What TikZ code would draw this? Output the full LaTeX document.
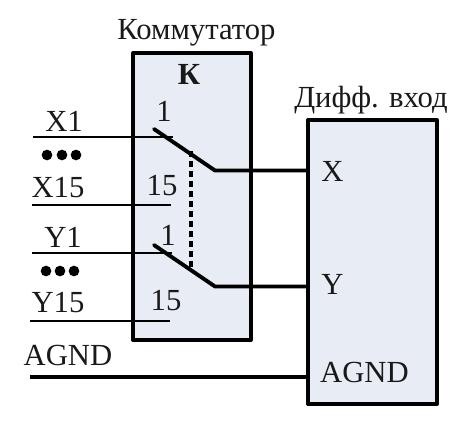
\documentclass[tikz,border=0pt]{standalone}
\usepackage{fontspec}
\setmainfont{Liberation Serif}
\definecolor{boxfill}{HTML}{E8ECF4}
\tikzset{
  panel/.style={draw=black,fill=boxfill,line width=3pt,line join=round,inner sep=0pt,outer sep=0pt},
  lbl/.style={anchor=base,inner sep=0pt,font=\fontsize{23}{26}\selectfont,text=black!90},
  wire/.style={line width=2.1pt,draw=black},
  blade/.style={line width=2.9pt,draw=black,line cap=round,line join=round},
  gang/.style={line width=2.9pt,draw=black,dash pattern=on 4.5pt off 3pt},
  dotmark/.style={circle,fill=black,inner sep=0pt,minimum size=8pt}
}
\begin{document}
\begin{tikzpicture}[x=0.75pt,y=-0.75pt]
\useasboundingbox (0,0) rectangle (474,424);
% blocks
\node[panel,minimum width=88pt,minimum height=215.5pt] (komm) at (192,196.5) {};
\node[panel,minimum width=96.5pt,minimum height=213pt] (diff) at (372.5,262) {};
% free ends of the wires and switch points
\coordinate (x1s) at (33,137);   \coordinate (x1e) at (173,137);
\coordinate (x15s) at (32,205);  \coordinate (x15e) at (171,205);
\coordinate (y1s) at (32,253);   \coordinate (y1e) at (172,253);
\coordinate (y15s) at (30,321);  \coordinate (y15e) at (170,321);
\coordinate (agnds) at (30,377);
\coordinate (xa) at (154,129);   \coordinate (xb) at (215,170.5);
\coordinate (ya) at (154,245);   \coordinate (yb) at (215,286.5);
\coordinate (ga) at (191,151);   \coordinate (gb) at (191,270);
% wires
\draw[wire] (x1s) -- (x1e);
\draw[wire] (x15s) -- (x15e);
\draw[wire] (y1s) -- (y1e);
\draw[wire] (y15s) -- (y15e);
\draw[wire,line width=2.6pt] (agnds) -- (agnds -| diff.west);
% switches
\draw[blade] (xa) -- (xb) -- (xb -| diff.west);
\draw[blade] (ya) -- (yb) -- (yb -| diff.west);
\draw[gang] (ga) -- (gb);
% dots
\foreach \n/\px/\py in {a/47/155,b/62/155,c/76/155,d/46/271,e/60/271,f/74/271}
  \node[dotmark] (dot\n) at (\px,\py) {};
% labels
\node[lbl] (tk) at (196.5,40) {Коммутатор};
\node[lbl] (td) at (371,108) {Дифф. вход};
\node[lbl,font=\fontsize{23}{26}\selectfont\bfseries] (tK) at (189,85) {К};
\node[lbl] (tx1) at (64,132) {X1};
\node[lbl] (tx15) at (58,197) {X15};
\node[lbl] (ty1) at (63,247) {Y1};
\node[lbl] (ty15) at (58,312) {Y15};
\node[lbl] (tag) at (68,365) {AGND};
\node[lbl] (t1a) at (164,122) {1};
\node[lbl] (t15a) at (162,195) {15};
\node[lbl] (t1b) at (168,245) {1};
\node[lbl] (t15b) at (166,310) {15};
\node[lbl] (tX) at (332.5,181) {X};
\node[lbl] (tY) at (332.5,294) {Y};
\node[lbl] (tAG) at (364.5,382) {AGND};
\end{tikzpicture}
\end{document}
